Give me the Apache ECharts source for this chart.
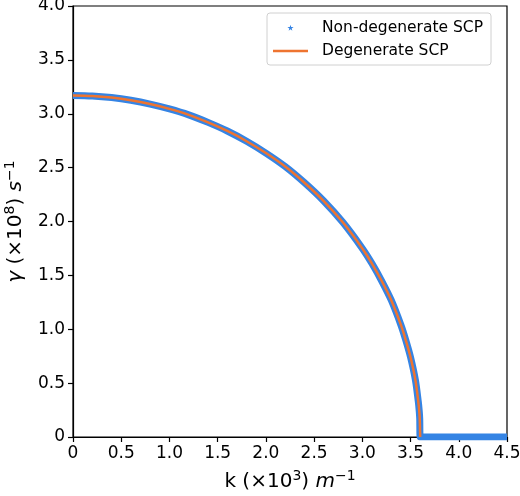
<!DOCTYPE html>
<html>
<head>
<meta charset="utf-8">
<script src="https://cdn.jsdelivr.net/npm/echarts@6/dist/echarts.min.js"></script>
<style>html,body{margin:0;padding:0;background:#fff}#c{width:520px;height:496px}</style>
</head>
<body>
<div id="c"></div>
<script>
// wavenumber k (x10^3 m^-1)
var kValues = [0, 0.2, 0.4, 0.6, 0.8, 1.0, 1.2, 1.4, 1.6, 1.8, 2.0, 2.2, 2.4, 2.6, 2.8, 3.0, 3.1, 3.2, 3.3, 3.4, 3.45, 3.5, 3.55, 3.58, 3.59, 3.595, 3.6];
// damping gamma (x10^8 s^-1), non-degenerate SCP
var gammaNonDeg = [3.17, 3.165, 3.15, 3.125, 3.09, 3.045, 2.99, 2.92, 2.84, 2.745, 2.635, 2.51, 2.36, 2.19, 1.99, 1.75, 1.61, 1.45, 1.27, 1.04, 0.90, 0.74, 0.53, 0.33, 0.24, 0.17, 0.0];
// damping gamma (x10^8 s^-1), degenerate SCP
var gammaDeg = [3.17, 3.165, 3.15, 3.125, 3.09, 3.045, 2.99, 2.92, 2.84, 2.745, 2.635, 2.51, 2.36, 2.19, 1.99, 1.75, 1.61, 1.45, 1.27, 1.04, 0.90, 0.74, 0.53, 0.33, 0.24, 0.17, 0.0];
// non-degenerate tail beyond cutoff
var kTail = [3.7, 3.8, 3.9, 4.0, 4.1, 4.2, 4.3, 4.4, 4.5];
var gammaTail = [0, 0, 0, 0, 0, 0, 0, 0, 0];
var xTicks = [0, 0.5, 1.0, 1.5, 2.0, 2.5, 3.0, 3.5, 4.0, 4.5];
var yTicks = [0, 0.5, 1.0, 1.5, 2.0, 2.5, 3.0, 3.5, 4.0];

var blue = '#3584e4';
var orange = '#ee7430';
var star = 'path://M-12,-12M112,112M50,0L61,35L98,35L68,57L79,91L50,70L21,91L32,57L2,35L39,35Z';
var dash = 'path://M0,0H100V7H0Z';

var nonDegData = kValues.map(function (k, i) { return [k, gammaNonDeg[i]]; })
  .concat(kTail.map(function (k, i) { return [k, gammaTail[i]]; }));
var degData = kValues.map(function (k, i) { return [k, gammaDeg[i]]; });

function fmt(v) { return v === 0 ? '0' : v.toFixed(1); }

var titleRich = {
  n: {fontFamily: 'DejaVu Sans', fontSize: 20, color: '#000', lineHeight: 26},
  i: {fontFamily: 'DejaVu Sans', fontSize: 20, fontStyle: 'italic', color: '#000', lineHeight: 26},
  s: {fontFamily: 'DejaVu Sans', fontSize: 14, color: '#000', verticalAlign: 'top', lineHeight: 14}
};

var chart = echarts.init(document.getElementById('c'), null, {renderer: 'canvas'});
chart.setOption({
  animation: false,
  textStyle: {fontFamily: 'DejaVu Sans'},
  grid: {left: 73, right: 13, top: 6, bottom: 59, outerBoundsMode: 'none', containLabel: false,
         show: true, borderColor: '#000', borderWidth: 1.2, backgroundColor: 'transparent'},
  legend: {
    left: 267, top: 13,
    orient: 'vertical',
    padding: [7, 8, 6, 6],
    itemWidth: 35, itemHeight: 8, itemGap: 7,
    borderColor: '#d0d0d0', borderWidth: 1, borderRadius: 3,
    backgroundColor: 'rgba(255,255,255,0.8)',
    textStyle: {fontFamily: 'DejaVu Sans', fontSize: 15.5, color: '#000', padding: [0, 0, 0, 9]},
    data: [
      {name: 'Non-degenerate SCP', icon: star, itemStyle: {color: blue}},
      {name: 'Degenerate SCP', icon: dash, itemStyle: {color: orange}}
    ]
  },
  xAxis: {
    type: 'value', min: 0, max: 4.5, interval: 0.5,
    name: '{n|k (×10}{s|3}{n|) }{i|m}{s|−1}',
    nameLocation: 'middle', nameGap: 32,
    nameTextStyle: {rich: titleRich},
    axisLine: {show: true, onZero: false, lineStyle: {color: '#000', width: 1.2}},
    axisTick: {show: true, inside: false, length: 5, lineStyle: {color: '#000', width: 1.2}},
    axisLabel: {fontFamily: 'DejaVu Sans', fontSize: 17, color: '#000', margin: 8, formatter: fmt},
    splitLine: {show: false}
  },
  yAxis: {
    type: 'value', min: 0, max: 4.0, interval: 0.5,
    name: '{i|γ}{n| (×10}{s|8}{n|) }{i|s}{s|−1}',
    nameLocation: 'middle', nameGap: 44, nameRotate: 90,
    nameTextStyle: {rich: titleRich},
    axisLine: {show: true, onZero: false, lineStyle: {color: '#000', width: 1.2}},
    axisTick: {show: true, inside: false, length: 5, lineStyle: {color: '#000', width: 1.2}},
    axisLabel: {fontFamily: 'DejaVu Sans', fontSize: 17, color: '#000', margin: 8, formatter: fmt},
    splitLine: {show: false}
  },
  series: [
    {
      name: 'Non-degenerate SCP', type: 'line', data: nonDegData,
      showSymbol: false, symbol: star, smooth: 0.3,
      itemStyle: {color: blue},
      lineStyle: {color: blue, width: 7},
      z: 2
    },
    {
      name: 'Degenerate SCP', type: 'line', data: degData,
      showSymbol: false, symbol: 'none', smooth: 0.3,
      itemStyle: {color: orange},
      lineStyle: {color: orange, width: 2.5},
      z: 3
    }
  ]
});
</script>
</body>
</html>
